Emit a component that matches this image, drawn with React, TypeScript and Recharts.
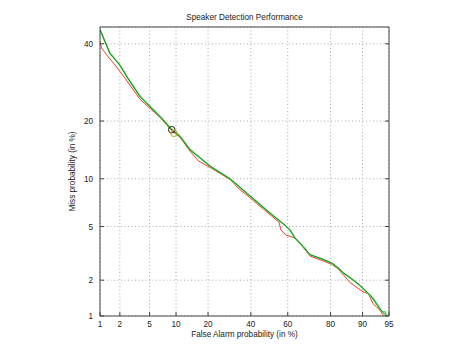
import { ComposedChart, Line, Scatter, XAxis, YAxis, CartesianGrid } from "recharts"

// tick labels (in %)
const xTickLabels = [1, 2, 5, 10, 20, 40, 60, 80, 90, 95]
const yTickLabels = [1, 2, 5, 10, 20, 40]
const xRange = [1, 95]
const yRange = [1, 45]

// red system
const redFa = [1, 1.06, 1.27, 1.7, 2.37, 3.8, 6.65, 9.0, 11.0, 13.8, 16.5, 20.8, 29.5, 34.0, 39.5, 50.4, 55.3, 56.4, 59.1, 63.8, 68.0, 71.2, 77.1, 80.5, 82.8, 84.6, 86.6, 90.2, 91.3, 92.3, 93.6, 94.2]
const redMiss = [40.7, 38.7, 36.8, 33.9, 30.3, 24.9, 20.8, 18.0, 16.7, 14.2, 12.6, 11.6, 9.9, 8.7, 7.7, 6.0, 5.35, 4.73, 4.36, 4.16, 3.55, 3.08, 2.82, 2.66, 2.45, 2.2, 1.92, 1.6, 1.56, 1.28, 1.12, 1.0]

// green system
const greenFa = [1, 1.06, 1.2, 1.43, 2.0, 2.6, 3.8, 6.65, 9.0, 11.0, 13.8, 20.8, 29.5, 39.5, 50.4, 58.5, 61.2, 63.8, 68.0, 71.2, 77.1, 80.5, 82.8, 84.6, 87.6, 89.3, 92.3, 93.2, 93.9, 94.4, 94.7]
const greenMiss = [44.2, 43.1, 40.6, 37.2, 33.9, 30.3, 25.7, 21.0, 18.3, 16.9, 14.5, 11.8, 10.0, 7.9, 6.15, 5.1, 4.73, 4.16, 3.6, 3.15, 2.9, 2.72, 2.5, 2.28, 2.0, 1.82, 1.42, 1.24, 1.09, 1.09, 1.0]

// dark system (mostly over the green one)
const darkFa = [1, 1.06, 1.2, 1.43, 2.0, 2.6, 3.8, 6.65, 9.0, 11.0, 13.8, 20.8, 29.5, 39.5, 50.4, 58.5, 61.2, 63.8, 68.0, 71.2, 77.1, 80.5, 82.8, 84.6, 87.6, 89.3, 91.8, 92.8, 93.6, 94.6]
const darkMiss = [44.2, 43.1, 40.6, 37.2, 33.9, 30.3, 25.5, 21.0, 18.2, 16.9, 14.4, 11.8, 10.0, 7.9, 6.15, 5.1, 4.73, 4.16, 3.6, 3.15, 2.9, 2.72, 2.5, 2.28, 2.0, 1.82, 1.5, 1.3, 1.15, 1.0]

// min cost points
const darkMark = [{ fa: 9.0, miss: 18.2 }]
const greenMark = [{ fa: 9.5, miss: 17.5 }]

const FONT = "'Liberation Sans', Arial, Helvetica, sans-serif"
const TXT = "#222"
const FRAME = "#444"

// inverse normal cdf (Acklam)
function probit(pct: number) {
  const p = pct / 100
  const a = [-39.69683028665376, 220.9460984245205, -275.9285104469687, 138.357751867269, -30.66479806614716, 2.506628277459239]
  const b = [-54.47609879822406, 161.5858368580409, -155.6989798598866, 66.80131188771972, -13.28068155288572]
  const c = [-0.007784894002430293, -0.3223964580411365, -2.400758277161838, -2.549732539343734, 4.374664141464968, 2.938163982698783]
  const d = [0.007784695709041462, 0.3224671290700398, 2.445134137142996, 3.754408661907416]
  const plow = 0.02425
  if (p < plow) {
    const q = Math.sqrt(-2 * Math.log(p))
    return (((((c[0] * q + c[1]) * q + c[2]) * q + c[3]) * q + c[4]) * q + c[5]) / ((((d[0] * q + d[1]) * q + d[2]) * q + d[3]) * q + 1)
  }
  if (p <= 1 - plow) {
    const q = p - 0.5
    const r = q * q
    return ((((((a[0] * r + a[1]) * r + a[2]) * r + a[3]) * r + a[4]) * r + a[5]) * q) / (((((b[0] * r + b[1]) * r + b[2]) * r + b[3]) * r + b[4]) * r + 1)
  }
  const q = Math.sqrt(-2 * Math.log(1 - p))
  return -(((((c[0] * q + c[1]) * q + c[2]) * q + c[3]) * q + c[4]) * q + c[5]) / ((((d[0] * q + d[1]) * q + d[2]) * q + d[3]) * q + 1)
}

const toPoints = (fa: number[], miss: number[]) => fa.map((f, i) => ({ x: probit(f), y: probit(miss[i]) }))

const redData = toPoints(redFa, redMiss)
const greenData = toPoints(greenFa, greenMiss)
const darkData = toPoints(darkFa, darkMiss)
const darkMarkData = darkMark.map((m) => ({ x: probit(m.fa), y: probit(m.miss) }))
const greenMarkData = greenMark.map((m) => ({ x: probit(m.fa), y: probit(m.miss) }))

const xTicks = xTickLabels.map(probit)
const yTicks = yTickLabels.map(probit)
const xDomain = [probit(xRange[0]), probit(xRange[1])]
const yDomain = [probit(yRange[0]), probit(yRange[1])]

const labelFor = (v: number, list: number[]) => {
  const hit = list.find((p) => Math.abs(probit(p) - v) < 1e-6)
  return hit === undefined ? "" : String(hit)
}

const BottomTick = (props: any) => {
  const { x, y, payload } = props
  return (
    <g>
      <line x1={x} y1={y} x2={x} y2={y - 4} stroke={FRAME} />
      <text x={x} y={y + 10.5} textAnchor="middle" fontSize={8.2} fontFamily={FONT} fill={TXT}>
        {labelFor(payload.value, xTickLabels)}
      </text>
    </g>
  )
}

const LeftTick = (props: any) => {
  const { x, y, payload } = props
  return (
    <g>
      <line x1={x} y1={y} x2={x + 4} y2={y} stroke={FRAME} />
      <text x={x - 7} y={y + 3} textAnchor="end" fontSize={8.2} fontFamily={FONT} fill={TXT}>
        {labelFor(payload.value, yTickLabels)}
      </text>
    </g>
  )
}

const TopTick = (props: any) => {
  const { x, y } = props
  return <line x1={x} y1={y} x2={x} y2={y + 4} stroke={FRAME} />
}

const RightTick = (props: any) => {
  const { x, y } = props
  return <line x1={x} y1={y} x2={x - 4} y2={y} stroke={FRAME} />
}

const ring = (color: string) => (props: any) => (
  <circle cx={props.cx} cy={props.cy} r={3.3} fill="none" stroke={color} strokeWidth={1} />
)

export default function App() {
  return (
    <div style={{ position: "absolute", left: 0, top: 0, width: 474, height: 355, background: "#fff" }}>
      <ComposedChart width={474} height={355} margin={{ top: 26, right: 84, bottom: 38, left: 99 }}>
        <CartesianGrid stroke="#aaa" strokeDasharray="1 2.5" />
        <XAxis
          dataKey="x"
          type="number"
          domain={xDomain}
          ticks={xTicks}
          allowDataOverflow
          height={1}
          tickSize={0}
          tickMargin={0}
          tickLine={false}
          axisLine={{ stroke: FRAME }}
          tick={<BottomTick />}
          interval={0}
        />
        <XAxis
          xAxisId="top"
          orientation="top"
          type="number"
          domain={xDomain}
          ticks={xTicks}
          allowDataOverflow
          height={1}
          tickSize={0}
          tickMargin={0}
          tickLine={false}
          axisLine={{ stroke: FRAME }}
          tick={<TopTick />}
          interval={0}
        />
        <YAxis
          dataKey="y"
          type="number"
          domain={yDomain}
          ticks={yTicks}
          allowDataOverflow
          width={1}
          tickSize={0}
          tickMargin={0}
          tickLine={false}
          axisLine={{ stroke: FRAME }}
          tick={<LeftTick />}
          interval={0}
        />
        <YAxis
          yAxisId="right"
          orientation="right"
          type="number"
          domain={yDomain}
          ticks={yTicks}
          allowDataOverflow
          width={1}
          tickSize={0}
          tickMargin={0}
          tickLine={false}
          axisLine={{ stroke: FRAME }}
          tick={<RightTick />}
          interval={0}
        />
        <Line data={redData} dataKey="y" type="linear" stroke="#f03a3a" strokeWidth={1} dot={false} isAnimationActive={false} />
        <Line data={greenData} dataKey="y" type="linear" stroke="#55dd55" strokeWidth={1.6} dot={false} isAnimationActive={false} />
        <Line data={darkData} dataKey="y" type="linear" stroke="#237a23" strokeWidth={0.9} dot={false} isAnimationActive={false} />
        <Scatter data={darkMarkData} dataKey="y" shape={ring("#222")} isAnimationActive={false} />
        <Scatter data={greenMarkData} dataKey="y" shape={ring("#a8b030")} isAnimationActive={false} />
        <text x={244.5} y={20} textAnchor="middle" fontSize={8.2} fontFamily={FONT} fill={TXT}>
          Speaker Detection Performance
        </text>
        <text x={244.5} y={337} textAnchor="middle" fontSize={8.2} fontFamily={FONT} fill={TXT}>
          False Alarm probability (in %)
        </text>
        <text
          x={75}
          y={171.5}
          textAnchor="middle"
          fontSize={8.2}
          fontFamily={FONT}
          fill={TXT}
          transform="rotate(-90 75 171.5)"
        >
          Miss probability (in %)
        </text>
      </ComposedChart>
    </div>
  )
}
